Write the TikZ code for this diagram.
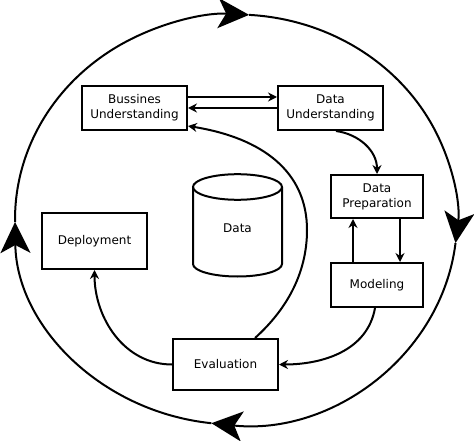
\documentclass[tikz,border=0pt]{standalone}
\usepackage{fontspec}
\setmainfont{DejaVu Sans}
\usetikzlibrary{arrows.meta}
\begin{document}
\begin{tikzpicture}[x=1pt,y=1pt,
  box/.style={draw, line width=2pt, inner sep=0pt, align=center, font=\fontsize{12pt}{15pt}\selectfont},
  lbl/.style={inner sep=0pt, font=\fontsize{12pt}{15pt}\selectfont},
  shp/.style={line width=2pt},
  conn/.style={line width=2pt, -{Stealth[length=9pt,width=9pt,inset=3pt]}},
  cyc/.style={line width=2pt, -{Stealth[length=31pt,width=30pt,inset=8pt]}},
]
\useasboundingbox (0,0) rectangle (474,440);
\coordinate (c) at (236,220.5);

% outer cycle
\draw[cyc] (c) ++(180.7:221pt and 205pt) arc[start angle=180.7, end angle=86.6, x radius=221pt, y radius=205pt];
\draw[cyc] (c) ++(86.6:221pt and 205pt) arc[start angle=86.6, end angle=-6.6, x radius=221pt, y radius=205pt];
\draw[cyc] (c) ++(-6.6:221pt and 205pt) arc[start angle=-6.6, end angle=-96.4, x radius=221pt, y radius=205pt];
\draw[cyc] (c) ++(-96.4:221pt and 205pt) arc[start angle=-96.4, end angle=-179.3, x radius=221pt, y radius=205pt];

% boxes
\node[box, minimum width=105pt, minimum height=44pt] (bu) at (134.5,332) {Bussines\\Understanding};
\node[box, minimum width=105pt, minimum height=44pt] (du) at (330.5,332) {Data\\Understanding};
\node[box, minimum width=92pt, minimum height=43pt] (dp) at (377,243.5) {Data\\Preparation};
\node[box, minimum width=92pt, minimum height=44pt] (mod) at (377,155) {Modeling};
\node[box, minimum width=105pt, minimum height=56pt] (dep) at (94.5,199) {Deployment};
\node[box, minimum width=105pt, minimum height=51pt] (ev) at (225.5,75.5) {Evaluation};

% data cylinder
\node[lbl] (data) at (237.5,211.5) {Data};
\draw[shp] ([shift={(0,41.5)}]data.center) ellipse [x radius=44.5pt, y radius=12.8pt];
\draw[shp] ([shift={(-44.5,41.5)}]data.center) -- ([shift={(-44.5,-35.5)}]data.center)
  arc[start angle=180, end angle=360, x radius=44.5pt, y radius=12.5pt]
  -- ([shift={(44.5,41.5)}]data.center);

% connectors
\draw[conn] ([yshift=11pt]bu.east) -- ([yshift=11pt]du.west);
\draw[conn] (du.west) -- (bu.east);
\draw[conn] ([xshift=5.5pt]du.south) to[out=-8,in=90] (dp.north);
\draw[conn] ([xshift=-24pt]mod.north) -- ([xshift=-24pt]dp.south);
\draw[conn] ([xshift=23pt]dp.south) -- ([xshift=23pt]mod.north);
\draw[conn] ([xshift=-2pt]mod.south) to[out=-100,in=0] (ev.east);
\draw[conn] (ev.west) to[out=180,in=-90] (dep.south);
\coordinate (evbu) at (307,210);
\draw[conn] ([xshift=29.5pt]ev.north) .. controls +(30,27) and +(0,-45) .. (evbu)
  .. controls +(0,58) and +(75,-12) .. ([yshift=5pt]bu.south east);
\end{tikzpicture}
\end{document}
